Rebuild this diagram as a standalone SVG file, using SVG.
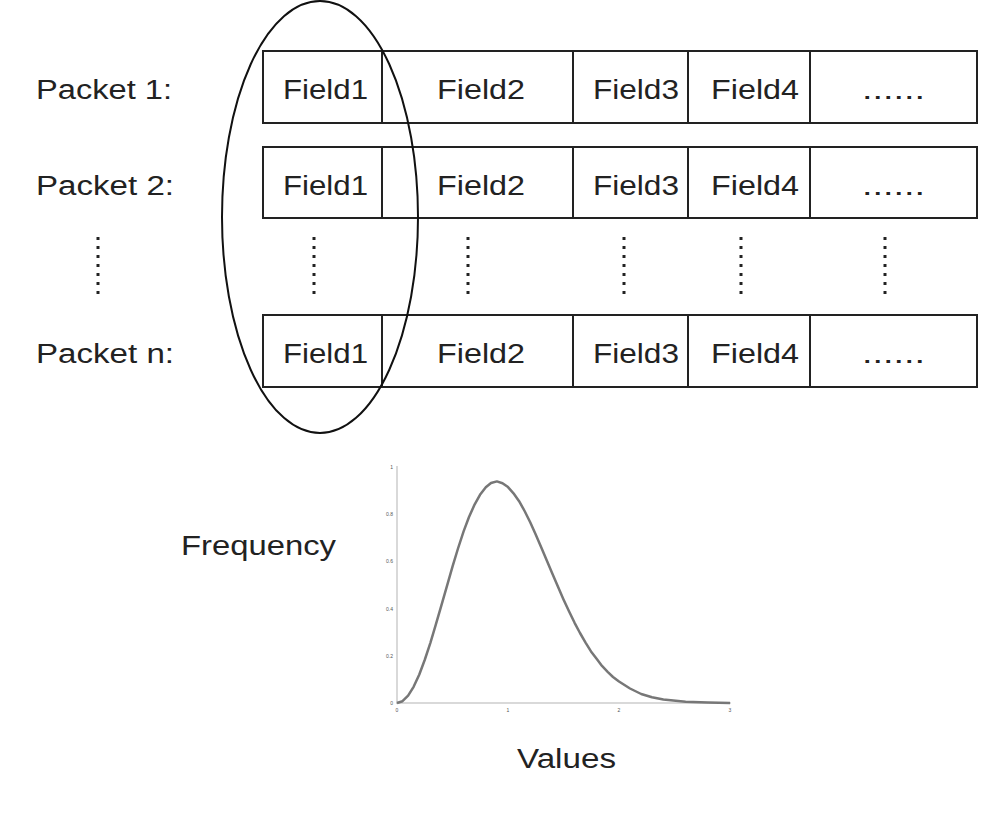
<svg xmlns="http://www.w3.org/2000/svg" width="995" height="816" viewBox="0 0 995 816">
<style>
text{font-family:"Liberation Sans",Arial,sans-serif;font-size:27px;fill:#222;}
.c{text-anchor:middle}
.box{fill:none;stroke:#222;stroke-width:2}
.dot{stroke:#222;stroke-width:3;stroke-dasharray:3 6}
.tk{font-size:5px;fill:#555}
</style>
<rect width="995" height="816" fill="#fff"/>
<g id="labels">
<text x="36" y="99" textLength="136" lengthAdjust="spacingAndGlyphs">Packet 1:</text>
<text x="36" y="195" textLength="138" lengthAdjust="spacingAndGlyphs">Packet 2:</text>
<text x="36" y="363" textLength="138" lengthAdjust="spacingAndGlyphs">Packet n:</text>
</g>
<g id="packet1">
<rect class="box" x="263" y="51" width="714" height="72"/>
<line class="box" x1="382" y1="51" x2="382" y2="123"/><line class="box" x1="573" y1="51" x2="573" y2="123"/><line class="box" x1="688" y1="51" x2="688" y2="123"/><line class="box" x1="810" y1="51" x2="810" y2="123"/>
<text x="283" y="99" textLength="85" lengthAdjust="spacingAndGlyphs">Field1</text><text x="437" y="99" textLength="88" lengthAdjust="spacingAndGlyphs">Field2</text><text x="593" y="99" textLength="86" lengthAdjust="spacingAndGlyphs">Field3</text><text x="711" y="99" textLength="88" lengthAdjust="spacingAndGlyphs">Field4</text><text x="862" y="99" textLength="63" lengthAdjust="spacingAndGlyphs">......</text>
</g>
<g id="packet2">
<rect class="box" x="263" y="147" width="714" height="71"/>
<line class="box" x1="382" y1="147" x2="382" y2="218"/><line class="box" x1="573" y1="147" x2="573" y2="218"/><line class="box" x1="688" y1="147" x2="688" y2="218"/><line class="box" x1="810" y1="147" x2="810" y2="218"/>
<text x="283" y="195" textLength="85" lengthAdjust="spacingAndGlyphs">Field1</text><text x="437" y="195" textLength="88" lengthAdjust="spacingAndGlyphs">Field2</text><text x="593" y="195" textLength="86" lengthAdjust="spacingAndGlyphs">Field3</text><text x="711" y="195" textLength="88" lengthAdjust="spacingAndGlyphs">Field4</text><text x="862" y="195" textLength="63" lengthAdjust="spacingAndGlyphs">......</text>
</g>
<g id="packetn">
<rect class="box" x="263" y="315" width="714" height="72"/>
<line class="box" x1="382" y1="315" x2="382" y2="387"/><line class="box" x1="573" y1="315" x2="573" y2="387"/><line class="box" x1="688" y1="315" x2="688" y2="387"/><line class="box" x1="810" y1="315" x2="810" y2="387"/>
<text x="283" y="363" textLength="85" lengthAdjust="spacingAndGlyphs">Field1</text><text x="437" y="363" textLength="88" lengthAdjust="spacingAndGlyphs">Field2</text><text x="593" y="363" textLength="86" lengthAdjust="spacingAndGlyphs">Field3</text><text x="711" y="363" textLength="88" lengthAdjust="spacingAndGlyphs">Field4</text><text x="862" y="363" textLength="63" lengthAdjust="spacingAndGlyphs">......</text>
</g>
<g id="dots">
<line class="dot" x1="98" y1="237" x2="98" y2="296"/><line class="dot" x1="314" y1="237" x2="314" y2="296"/><line class="dot" x1="468" y1="237" x2="468" y2="296"/><line class="dot" x1="624" y1="237" x2="624" y2="296"/><line class="dot" x1="741" y1="237" x2="741" y2="296"/><line class="dot" x1="885" y1="237" x2="885" y2="296"/>
</g>
<g id="ellipse"><ellipse cx="320" cy="217" rx="98" ry="216" fill="none" stroke="#111" stroke-width="2"/></g>
<g id="chart">
<line x1="397" y1="466" x2="397" y2="704" stroke="#ccc" stroke-width="1.5"/>
<line x1="396" y1="703" x2="731" y2="703" stroke="#ccc" stroke-width="1.5"/>
<text class="tk" x="393" y="469" text-anchor="end">1</text>
<text class="tk" x="393" y="516" text-anchor="end">0.8</text>
<text class="tk" x="393" y="563" text-anchor="end">0.6</text>
<text class="tk" x="393" y="611" text-anchor="end">0.4</text>
<text class="tk" x="393" y="658" text-anchor="end">0.2</text>
<text class="tk" x="393" y="705" text-anchor="end">0</text>
<text class="tk c" x="397" y="712">0</text><text class="tk c" x="508" y="712">1</text><text class="tk c" x="619" y="712">2</text><text class="tk c" x="730" y="712">3</text>
<polyline fill="none" stroke="#777" stroke-width="2.5" stroke-linejoin="round" points="397,703 402.5,701.2 408.1,695.7 413.6,686.8 419.2,674.7 424.7,660 430.3,643.1 435.8,624.6 441.4,605.3 447,585.8 452.5,566.6 458,548.5 463.6,531.4 469,517 474.7,504.3 480,494.8 485.8,487.3 491,483 496.9,481.4 502.5,483.2 508,487.1 513.5,493.3 519.1,501.2 524.6,511 530.2,522.2 535.7,534.5 541.3,547.5 546.8,560.6 552.4,573.7 558,586.8 563.5,599.4 569,611.3 574.6,622.8 580,633 585.7,642.8 591,651.4 596.8,659.1 602,665.9 607.9,672.1 613,677 619,681.5 630,688.5 641.2,694 652,697.3 663.4,699.5 685.6,701.8 707.8,702.6 730,703"/>
<text x="181" y="555" textLength="155" lengthAdjust="spacingAndGlyphs">Frequency</text>
<text x="517" y="768" textLength="99" lengthAdjust="spacingAndGlyphs">Values</text>
</g>
</svg>
